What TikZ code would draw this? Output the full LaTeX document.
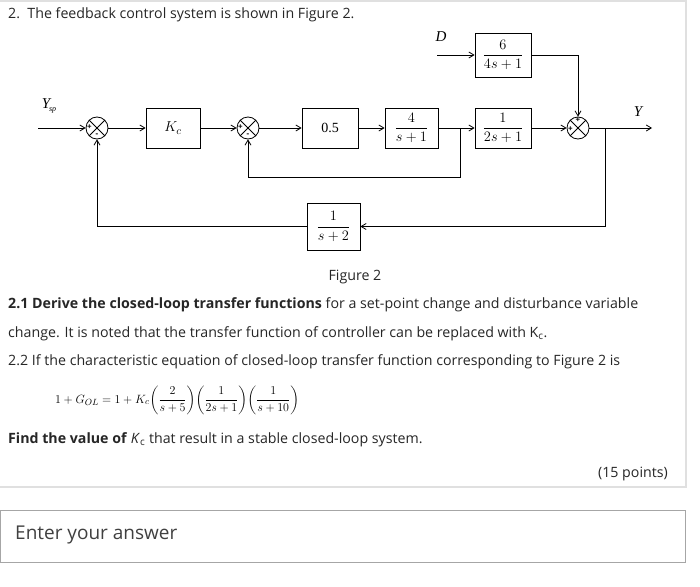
\documentclass[tikz,border=0pt]{standalone}
\usepackage{amsmath}
\usepackage{fontspec}
\setmainfont{Open Sans}
\newfontfamily\tms{Liberation Serif}
\usetikzlibrary{arrows.meta}
\begin{document}
\begin{tikzpicture}[x=1pt,y=-1pt,
  blk/.style={draw,line width=0.8pt,minimum width=54pt,minimum height=40pt,font=\fontsize{15}{17}\selectfont,inner sep=1pt},
  sum/.style={draw,circle,line width=0.8pt,minimum size=22pt,inner sep=0pt,
    path picture={\draw[line width=0.8pt] (path picture bounding box.south west)--(path picture bounding box.north east) (path picture bounding box.north west)--(path picture bounding box.south east);}},
  sg/.style={font=\fontsize{8}{8}\selectfont\bfseries,inner sep=0pt},
  ar/.style={-{Straight Barb[length=5pt,width=6pt]},line width=0.8pt},
  txt/.style={anchor=west,font=\fontsize{14.2}{16}\selectfont,inner sep=0pt,text=black!85}]
\useasboundingbox (0,0) rectangle (700,586);
\fill[white] (0,0) rectangle (700,586);
\draw[black!12,line width=2pt] (-2,1) rectangle (686,487);
\draw[black!35,line width=0.8pt] (0,510) rectangle (685,562);
\node[txt] (h) at (8,15) {2.\ \ The feedback control system is shown in Figure 2.};
% diagram
\node[sum] (s1) at (97,128) {};
\node[sum] (s2) at (248,128) {};
\node[sum] (s3) at (578,128) {};
\node[sg] at (89.5,127) {+}; \node[sg] at (97,135) {-};
\node[sg] at (240.5,127) {+}; \node[sg] at (248,135) {-};
\node[sg] at (570.5,129) {+}; \node[sg] at (578,120.5) {+};
\node[blk,minimum width=54pt] (kc) at (173,128) {$K_c$};
\node[blk,minimum width=56pt,font=\tms\fontsize{14}{16}\selectfont] (g1) at (330,128) {0.5};
\node[blk,minimum width=53pt] (g2) at (411.5,128) {$\dfrac{4}{s+1}$};
\node[blk,minimum width=56pt] (g3) at (503,128) {$\dfrac{1}{2s+1}$};
\node[blk,minimum width=56pt,minimum height=44pt] (gd) at (503,55) {$\dfrac{6}{4s+1}$};
\node[blk,minimum width=53pt,minimum height=47pt] (gh) at (333.5,226.5) {$\dfrac{1}{s+2}$};
\node[font=\tms\itshape\fontsize{15}{15}\selectfont] (ysp) at (49,106) {Y\kern-1pt\raisebox{-3pt}{\fontsize{8}{8}\selectfont sp}};
\node[font=\tms\itshape\fontsize{15}{15}\selectfont] (yl) at (638,112) {Y};
\node[font=\tms\itshape\fontsize{15}{15}\selectfont] (dl) at (441,37) {D};
\coordinate (in) at (38,128);
\coordinate (din) at (437,55);
\coordinate (j1) at (460,128);
\coordinate (j2) at (605,128);
\coordinate (out) at (652,128);
\draw[ar] (in)--(s1);
\draw[ar] (s1)--(kc);
\draw[ar] (kc)--(s2);
\draw[ar] (s2)--(g1);
\draw[ar] (g1)--(g2);
\draw[ar] (g2)--(g3);
\draw[ar] (g3)--(s3);
\draw[ar] (s3)--(out);
\draw[ar] (din)--(gd);
\draw[ar] (gd.east)-|(s3.north);
\draw[ar] (j1)--(460,177)-|(s2.south);
\draw[ar] (j2)|-(gh.east);
\draw[ar] (gh.west)-|(s1.south);
\node[font=\fontsize{14.2}{16}\selectfont,text=black!85] (fig) at (355,277) {Figure 2};
\node[txt] (t1) at (8,305) {\textbf{2.1 Derive the closed-loop transfer functions} for a set-point change and disturbance variable};
\node[txt] (t2) at (8,334) {change. It is noted that the transfer function of controller can be replaced with K\textsubscript{c}.};
\node[txt] (t3) at (8,362) {2.2 If the characteristic equation of closed-loop transfer function corresponding to Figure 2 is};
\node[anchor=west,inner sep=0pt,font=\fontsize{12.5}{14}\selectfont] (eq) at (55,400) {$1+G_{OL}=1+K_c\!\left(\dfrac{2}{s+5}\right)\!\left(\dfrac{1}{2s+1}\right)\!\left(\dfrac{1}{s+10}\right)$};
\node[txt] (t4) at (8,440) {\textbf{Find the value of} \textit{K}\textsubscript{c} that result in a stable closed-loop system.};
\node[anchor=east,inner sep=0pt,font=\fontsize{14.2}{16}\selectfont,text=black!85] (pts) at (668,474) {(15 points)};
\node[anchor=west,inner sep=0pt,font=\fontsize{19}{22}\selectfont,text=black!75] (ans) at (15,535) {Enter your answer};
\end{tikzpicture}
\end{document}
